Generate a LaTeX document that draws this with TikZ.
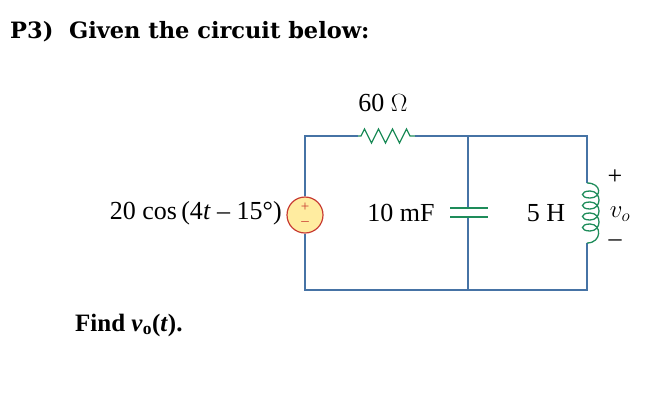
\documentclass[tikz,border=0pt]{standalone}
\usepackage{fontspec}
\setmainfont{Liberation Serif}
\newfontfamily\titlefont{DejaVu Serif}
\definecolor{wire}{RGB}{70,115,165}
\definecolor{comp}{RGB}{30,140,90}
\definecolor{srcfill}{RGB}{255,236,160}
\definecolor{srcline}{RGB}{200,60,50}
\tikzset{w/.style={wire,line width=1.2pt},c/.style={comp,line width=1.3pt},lbl/.style={font=\fontsize{26}{26}\selectfont,inner sep=0pt}}
\begin{document}
\begin{tikzpicture}[x=1pt,y=-1pt]
\useasboundingbox (0,0) rectangle (663,400);
\node[anchor=west,font=\titlefont\bfseries\fontsize{22.5}{22.5}\selectfont,inner sep=0] (title) at (10,32) {P3)\ \ Given the circuit below:};
\node[anchor=west,font=\bfseries\fontsize{25}{25}\selectfont,inner sep=0] (find) at (75,325) {Find \textit{v}\textsubscript{o}(\textit{t}).};
\coordinate (tl) at (305,136); \coordinate (tm) at (468,136); \coordinate (tr) at (587,136);
\coordinate (bl) at (305,290); \coordinate (bm) at (468,290); \coordinate (br) at (587,290);
\coordinate (r1) at (358,136); \coordinate (r2) at (415,136);
\coordinate (c1) at (468,208); \coordinate (c2) at (468,217);
\coordinate (l1) at (587,183); \coordinate (l2) at (587,243);
\node[circle,draw=srcline,fill=srcfill,line width=1.2pt,minimum size=36pt,inner sep=0] (src) at (305,215) {};
\node[srcline,font=\fontsize{15}{15}\selectfont,inner sep=0] at (305,207) {+};
\node[srcline,font=\fontsize{15}{15}\selectfont,inner sep=0] at (305,224) {--};
\draw[w] (src.north) -- (tl) -- (r1);
\draw[w] (r2) -- (tm) -- (tr) -- (l1);
\draw[w] (l2) -- (br) -- (bm) -- (bl) -- (src.south);
\draw[w] (tm) -- (c1); \draw[w] (c2) -- (bm);
\draw[c] (r1) -- ++(3,0) -- ++(3.5,-7) -- ++(7,14) -- ++(7,-14) -- ++(7,14) -- ++(7,-14) -- ++(7,14) -- ++(7,-14) -- ++(3.5,7) -- (r2);
\draw[c,line width=1.6pt] (450,208) -- (488,208); \draw[c,line width=1.6pt] (450,217) -- (488,217);
\draw[c] (l1) .. controls (602,183) and (602,198) .. (590,198) .. controls (580,198) and (580,191) .. (590,191)
  .. controls (602,191) and (602,209) .. (590,209) .. controls (580,209) and (580,202) .. (590,202)
  .. controls (602,202) and (602,220) .. (590,220) .. controls (580,220) and (580,213) .. (590,213)
  .. controls (602,213) and (602,231) .. (590,231) .. controls (580,231) and (580,224) .. (590,224)
  .. controls (602,224) and (602,243) .. (l2);
\node[lbl] (rl) at (383,103) {60 $\Omega$};
\node[lbl] (cl) at (401,213) {10 mF};
\node[lbl] (ll) at (546,213) {5 H};
\node[lbl,anchor=east] (sl) at (282,213) {20 cos\,(4\textit{t} -- 15°)};
\node[lbl] (p) at (615,177) {+};
\node[lbl] (vo) at (620,214) {$v_o$};
\node[lbl] (m) at (615,243) {--};
\end{tikzpicture}
\end{document}
